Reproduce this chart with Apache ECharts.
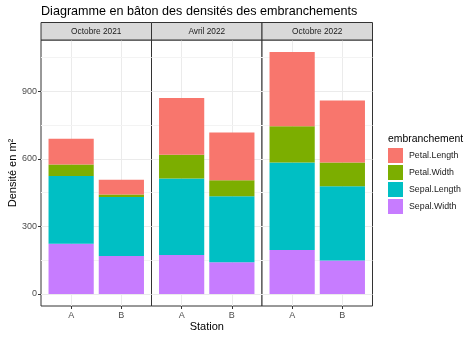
<!DOCTYPE html>
<html>
<head>
<meta charset="utf-8">
<script src="https://cdn.jsdelivr.net/npm/echarts@6/dist/echarts.min.js"></script>
<style>html,body{margin:0;padding:0;background:#fff}#c{width:474px;height:338px}</style>
</head>
<body>
<div id="c"></div>
<script>
// ---- data ----
const panels = ['Octobre 2021', 'Avril 2022', 'Octobre 2022'];
const stations = ['A', 'B'];
// values per panel, station order A,B
const petalLength = [[115, 65], [252, 212], [330, 276]];
const petalWidth  = [[51, 11], [106, 71], [161, 105]];
const sepalLength = [[301, 263], [340, 293], [389, 330]];
const sepalWidth  = [[223, 168], [173, 141], [195, 149]];
const yTicks = [0, 300, 600, 900];
const yMinorTicks = [150, 450, 750, 1050];
const legendOrder = ['Petal.Length', 'Petal.Width', 'Sepal.Length', 'Sepal.Width'];

// ---- layout / style ----
const FONT = 'Liberation Sans, Arial, sans-serif';
const colors = {
  'Petal.Length': '#F8766D',
  'Petal.Width': '#7CAE00',
  'Sepal.Length': '#00BFC4',
  'Sepal.Width': '#C77CFF'
};
// stacking order bottom -> top
const stackOrder = [
  ['Sepal.Width', sepalWidth],
  ['Sepal.Length', sepalLength],
  ['Petal.Width', petalWidth],
  ['Petal.Length', petalLength]
];

let maxTotal = 0;
for (let p = 0; p < panels.length; p++) {
  for (let s = 0; s < stations.length; s++) {
    let t = 0;
    stackOrder.forEach(([, arr]) => { t += arr[p][s]; });
    maxTotal = Math.max(maxTotal, t);
  }
}
const yMin = -0.05 * maxTotal;
const yMax = maxTotal * 1.05;

const panelLeft = 41, panelW = 110.5, panelTop = 40, panelH = 266;
const stripTop = 22.5, stripH = 17.5;
// discrete scale expansion (ggplot): 0.6 units each side -> range 0.4..(n+0.6)
const nUnits = stations.length + 0.2;
const unitPx = panelW / nUnits;
const inset = 0.1 * unitPx;

const grids = [], xAxes = [], yAxes = [], series = [], graphics = [];
panels.forEach((name, p) => {
  const left = panelLeft + p * panelW;
  grids.push({
    left: left, top: panelTop, width: panelW, height: panelH,
    show: true, borderColor: '#333333', borderWidth: 1, backgroundColor: '#ffffff'
  });
});
panels.forEach((name, p) => {
  const left = panelLeft + p * panelW;
  grids.push({ left: left + inset, top: panelTop, width: panelW - 2 * inset, height: panelH, show: false });
});
// outer grids: frame + major gridlines + y ticks/labels
panels.forEach((name, p) => {
  const left = panelLeft + p * panelW;
  xAxes.push({
    type: 'value', gridIndex: p, min: 0.4, max: stations.length + 0.6,
    axisLine: { show: false, onZero: false },
    axisTick: { show: false, customValues: stations.map((_, i) => i + 1) },
    axisLabel: { show: false },
    splitLine: { show: true, lineStyle: { color: '#EBEBEB', width: 1 } }
  });
  yAxes.push({
    type: 'value', gridIndex: p, min: yMin, max: yMax,
    axisLine: { show: false, onZero: false },
    axisTick: { show: p === 0, length: 3, lineStyle: { color: '#333333' }, customValues: yTicks },
    axisLabel: { show: p === 0, color: '#4D4D4D', fontSize: 9, fontFamily: FONT, margin: 4, customValues: yTicks },
    splitLine: { show: true, lineStyle: { color: '#EBEBEB', width: 1 } },
    name: p === 0 ? 'Densité en m²' : '',
    nameLocation: 'middle', nameGap: 21,
    nameTextStyle: { fontSize: 11, color: '#000000', fontFamily: FONT }
  });
  graphics.push({
    type: 'rect', shape: { x: left, y: stripTop, width: panelW, height: stripH },
    style: { fill: '#D9D9D9', stroke: '#333333', lineWidth: 1 }, z: 10
  });
  graphics.push({
    type: 'text', x: left + panelW / 2, y: stripTop + stripH / 2 + 0.5,
    style: { text: name, fill: '#1A1A1A', fontSize: 8.3, fontFamily: FONT, align: 'center', verticalAlign: 'middle' }, z: 11
  });
});
// inner grids: bars on category axis (carries station ticks/labels)
panels.forEach((_, p) => {
  xAxes.push({
    type: 'category', gridIndex: panels.length + p, data: stations,
    axisLine: { show: false, onZero: false },
    axisTick: { show: true, alignWithLabel: true, length: 3, lineStyle: { color: '#333333' } },
    axisLabel: { show: true, color: '#4D4D4D', fontSize: 9, fontFamily: FONT, margin: 5, verticalAlign: 'top' },
    splitLine: { show: false }
  });
  yAxes.push({
    type: 'value', gridIndex: panels.length + p, min: yMin, max: yMax,
    axisLine: { show: false, onZero: false }, axisTick: { show: false }, axisLabel: { show: false }, splitLine: { show: false }
  });
  stackOrder.forEach(([sp, arr]) => {
    series.push({
      type: 'bar', name: sp,
      xAxisIndex: panels.length + p, yAxisIndex: panels.length + p,
      stack: 'panel' + p, barWidth: '90%', zlevel: 1, z: 3,
      itemStyle: { color: colors[sp] },
      data: arr[p]
    });
  });
});
// minor horizontal gridlines across each panel at the minor tick values (below bars)
panels.forEach((_, p) => {
  series.push({
    type: 'line', xAxisIndex: p, yAxisIndex: p, data: [], silent: true, z: 0,
    markLine: {
      silent: true, symbol: 'none', label: { show: false }, animation: false, z: 1,
      lineStyle: { color: '#F3F3F3', width: 1, type: 'solid' },
      data: yMinorTicks.map(v => ({ yAxis: v }))
    }
  });
});
graphics.push({
  type: 'text', x: panelLeft + 1.5 * panelW, y: 327,
  style: { text: 'Station', fill: '#000000', fontSize: 11, fontFamily: FONT, align: 'center', verticalAlign: 'middle' }
});
graphics.push({
  type: 'text', x: 388, y: 134,
  style: { text: 'embranchement', fill: '#000000', fontSize: 10.4, fontFamily: FONT }
});

const chart = echarts.init(document.getElementById('c'), null, { renderer: 'canvas' });
chart.setOption({
  animation: false,
  backgroundColor: '#ffffff',
  title: {
    text: 'Diagramme en bâton des densités des embranchements',
    left: 41, top: 5, padding: 0,
    textStyle: { fontSize: 12.6, fontWeight: 'normal', color: '#000000', fontFamily: FONT }
  },
  legend: {
    data: legendOrder, orient: 'vertical', left: 388, top: 148,
    itemWidth: 15, itemHeight: 15, itemGap: 2, icon: 'rect', padding: 0,
    textStyle: { fontSize: 8.8, color: '#1A1A1A', fontFamily: FONT, padding: [0, 0, 0, 1] },
    selectedMode: false
  },
  grid: grids, xAxis: xAxes, yAxis: yAxes, series: series, graphic: graphics
});
</script>
</body>
</html>
